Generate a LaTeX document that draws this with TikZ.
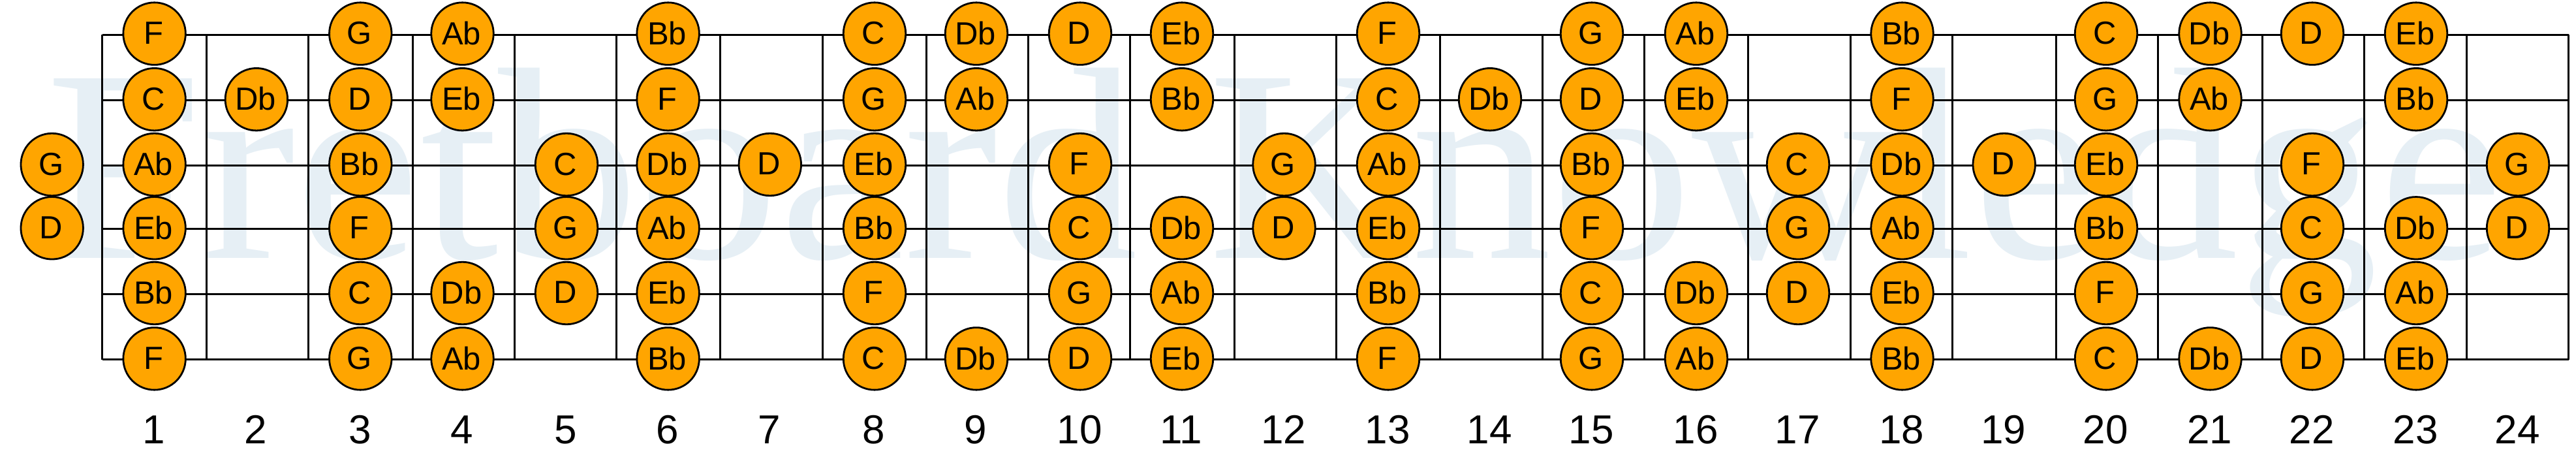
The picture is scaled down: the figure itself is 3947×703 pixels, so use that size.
\documentclass[tikz,border=0pt]{standalone}
\usepackage{fontspec}
\setmainfont{Liberation Sans}
\newfontfamily\wmfont{Liberation Serif}
\definecolor{wmblue}{HTML}{E6EFF5}
\definecolor{noteorange}{HTML}{FFA500}
\tikzset{
  note/.style={circle,draw=black,fill=noteorange,line width=2.8pt,minimum size=95.5pt,inner sep=0pt,font=\fontsize{49}{49}\selectfont},
  fretnum/.style={anchor=base,inner sep=0pt,font=\fontsize{62}{62}\selectfont},
  gridline/.style={draw=black,line width=3pt},
  watermark/.style={anchor=base west,inner sep=0pt,text=wmblue,font=\fontsize{420}{420}\wmfont}
}
\begin{document}
\begin{tikzpicture}[x=1pt,y=-1pt]
\useasboundingbox[fill=white] (0,0) rectangle (3947,703);
\node[watermark,xscale=1.025] (wm) at (70,395) {Fretboard Knowledge};
% fret centre x positions, 0 = open string
\def\fx{{79.7,236.6,392.9,552.3,708.5,868,1023.6,1179.8,1340,1496,1655,1811,1967.5,2127,2283,2439,2599,2755,2914.5,3070.7,3227,3386.5,3543,3702,3858}}
\def\ry{{51.6,152.2,252,349.3,449,549.4}}
% grid
\foreach \y [count=\i] in {53.4,153.8,253.8,350.2,450.1,550.6}
  \draw[gridline] (156.9,\y) coordinate (sl\i) -- (3935.5,\y) coordinate (sr\i);
\foreach \x [count=\i] in {156.9,316.3,472.6,632,788,944.5,1103.3,1260.2,1419,1575.3,1731.5,1891,2047.8,2206.6,2363.5,2519.8,2678.6,2835.5,2991.7,3150.4,3306.8,3466.2,3622.7,3779,3935.5}
  \draw[gridline] (\x,53.4) coordinate (ft\i) -- (\x,550.6) coordinate (fb\i);
% notes: row/fret/label
\foreach \r/\list in {
 0/{1/F,3/G,4/Ab,6/Bb,8/C,9/Db,10/D,11/Eb,13/F,15/G,16/Ab,18/Bb,20/C,21/Db,22/D,23/Eb},
 1/{1/C,2/Db,3/D,4/Eb,6/F,8/G,9/Ab,11/Bb,13/C,14/Db,15/D,16/Eb,18/F,20/G,21/Ab,23/Bb},
 2/{0/G,1/Ab,3/Bb,5/C,6/Db,7/D,8/Eb,10/F,12/G,13/Ab,15/Bb,17/C,18/Db,19/D,20/Eb,22/F,24/G},
 3/{0/D,1/Eb,3/F,5/G,6/Ab,8/Bb,10/C,11/Db,12/D,13/Eb,15/F,17/G,18/Ab,20/Bb,22/C,23/Db,24/D},
 4/{1/Bb,3/C,4/Db,5/D,6/Eb,8/F,10/G,11/Ab,13/Bb,15/C,16/Db,17/D,18/Eb,20/F,22/G,23/Ab},
 5/{1/F,3/G,4/Ab,6/Bb,8/C,9/Db,10/D,11/Eb,13/F,15/G,16/Ab,18/Bb,20/C,21/Db,22/D,23/Eb}}{
  \foreach \f/\t in \list {
    \pgfmathsetmacro{\px}{\fx[\f]}
    \pgfmathsetmacro{\py}{\ry[\r]}
    \node[note] (n\r-\f) at (\px,\py) {\raisebox{2pt}{\t}\kern3pt};
  }
}
% fret numbers
\foreach \f in {1,...,24} {
  \pgfmathsetmacro{\px}{\fx[\f]}
  \node[fretnum] (num\f) at (\px-1,679) {\f};
}
\end{tikzpicture}
\end{document}
